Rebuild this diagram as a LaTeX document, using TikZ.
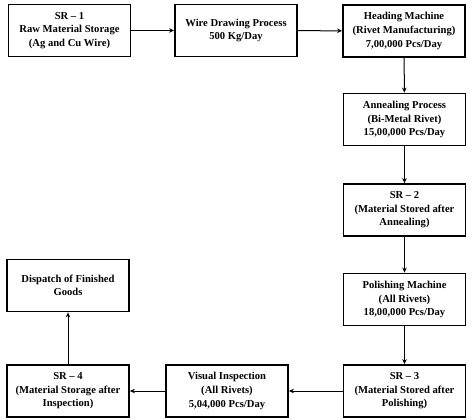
\documentclass[tikz,border=0pt]{standalone}
\usepackage{fontspec}
\setmainfont{Liberation Serif}
\usetikzlibrary{arrows.meta}
\begin{document}
\begin{tikzpicture}[x=1pt,y=-1pt,
  box/.style={draw,line width=1.8pt,minimum width=122pt,minimum height=52pt,inner sep=1pt,align=center,font=\bfseries\fontsize{10.6}{13.6}\selectfont},
  conn/.style={line width=1pt,-{Stealth[length=5pt,width=4.5pt]}}]
\useasboundingbox (0,0) rectangle (474,420);
\node[box] (sr1) at (69.5,30.5) {SR -- 1\\Raw Material Storage\\(Ag and Cu Wire)};
\node[box] (wire) at (236,30.5) {Wire Drawing Process\\500 Kg/Day};
\node[box] (head) at (404,31) {Heading Machine\\(Rivet Manufacturing)\\7,00,000 Pcs/Day};
\node[box] (ann) at (404.5,119.5) {Annealing Process\\(Bi-Metal Rivet)\\15,00,000 Pcs/Day};
\node[box] (sr2) at (404.5,210) {SR -- 2\\(Material Stored after\\Annealing)};
\node[box] (pol) at (404.5,299.5) {Polishing Machine\\(All Rivets)\\18,00,000 Pcs/Day};
\node[box] (sr3) at (404.5,391) {SR -- 3\\(Material Stored after\\Polishing)};
\node[box] (vis) at (227,391) {Visual Inspection\\(All Rivets)\\5,04,000 Pcs/Day};
\node[box] (sr4) at (68,391) {SR -- 4\\(Material Storage after\\Inspection)};
\node[box] (disp) at (68,285.5) {Dispatch of Finished\\Goods};
\draw[conn] (sr1) -- (wire);
\draw[conn] (wire) -- (head);
\draw[conn] (head) -- (ann);
\draw[conn] (ann) -- (sr2);
\draw[conn] (sr2) -- (pol);
\draw[conn] (pol) -- (sr3);
\draw[conn] (sr3) -- (vis);
\draw[conn] (vis) -- (sr4);
\draw[conn] (sr4) -- (disp);
\end{tikzpicture}
\end{document}
